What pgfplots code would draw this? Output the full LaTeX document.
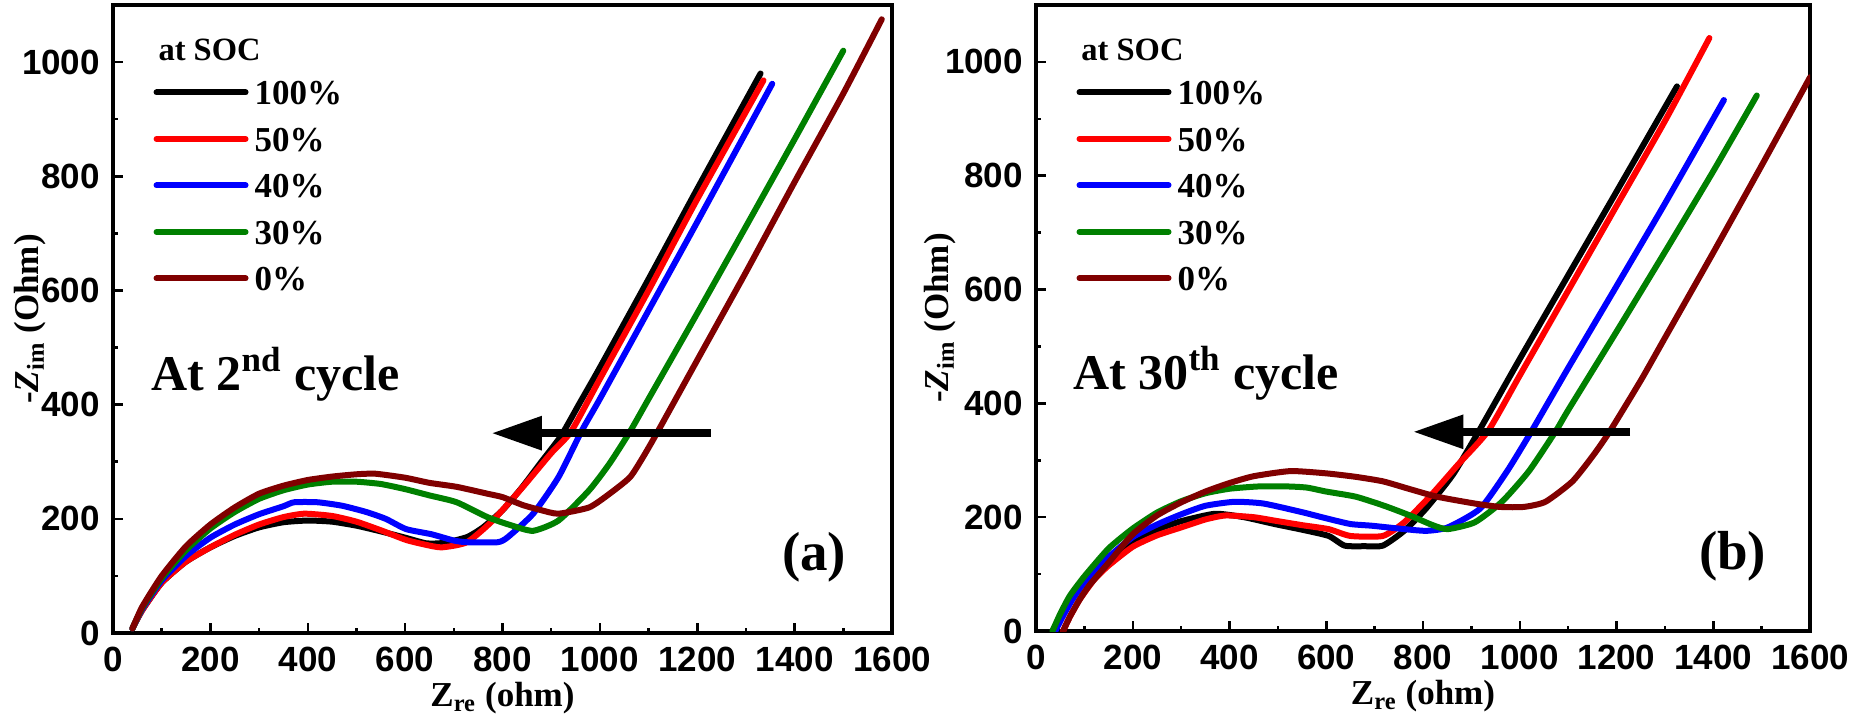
\documentclass[border=0pt]{standalone}
\usepackage{fontspec}
\setmainfont{Liberation Serif}
\setsansfont{Liberation Sans}
\usepackage{pgfplots}
\pgfplotsset{compat=1.18}
\usetikzlibrary{arrows.meta}

\definecolor{wine}{RGB}{128,0,0}
\definecolor{ogreen}{RGB}{0,128,0}
\definecolor{pblue}{RGB}{0,0,255}
\definecolor{pred}{RGB}{255,0,0}

\pgfplotsset{
  eis/.style={
    scale only axis,
    anchor=south west,
    xmin=0, xmax=1600, ymin=0, ymax=1100,
    xtick={0,200,...,1600}, ytick={0,200,...,1000},
    minor x tick num=1, minor y tick num=1,
    tick align=inside, tick pos=left,
    major tick length=4pt, minor tick length=2pt,
    axis line style={line width=1.4pt},
    every tick/.style={line width=1pt, black},
    tick label style={font=\fontsize{14}{14}\selectfont\sffamily\bfseries},
    /pgf/number format/assume math mode=true,
    /pgf/number format/1000 sep={},
    scaled ticks=false,
    xticklabel style={yshift=-2pt},
    yticklabel style={xshift=-1.7pt},
    label style={font=\fontsize{14}{16}\selectfont\bfseries},
    xlabel={Z\textsubscript{re} (ohm)},
    ylabel={-\textit{Z}\textsubscript{im} (Ohm)},
    xlabel style={at={(axis description cs:0.5,0)}, anchor=center, yshift=-26pt},
    legend cell align=left,
    legend style={anchor=north west, draw=none, fill=none, inner sep=0pt,
      /tikz/row sep=0pt, /tikz/column sep=2.4pt,
      font=\fontsize{14}{14}\selectfont\bfseries,
      nodes={inner xsep=0pt, inner ysep=0pt, text height=14.2pt, text depth=4.4pt}},
    legend image code/.code={\draw[#1, line width=2.4pt] (0pt,0pt) -- (35.6pt,0pt);},
    every axis plot/.append style={line width=2.4pt, line join=round, line cap=round,
      smooth, tension=0.35},
  },
}
\tikzset{
  soctitle/.style={anchor=west, inner sep=0pt, font=\fontsize{13}{13}\selectfont\bfseries},
  cyclenote/.style={anchor=base west, inner sep=0pt, font=\fontsize{20}{20}\selectfont\bfseries},
  panelnote/.style={anchor=center, inner sep=0pt, font=\fontsize{22}{22}\selectfont\bfseries},
  shiftarrow/.style={-{Triangle[length=20pt,width=13pt]}, line width=3pt, black},
}

\begin{document}
\begin{tikzpicture}
\useasboundingbox (0,0) rectangle (740.4pt,289.2pt);

% ---------- (a) 2nd cycle ----------
\begin{axis}[eis, at={(45.2pt,36pt)}, width=311.6pt, height=251.2pt,
  ylabel style={at={(axis description cs:-0.1065,0.5)}, anchor=center},
  legend style={at={(axis description cs:0.0514,0.8985)}}]
\addplot[black] coordinates {(40,8) (60,40) (100,88) (150,125) (200,150) (250,170) (300,185) (350,194) (400,197) (450,195) (500,188) (550,178) (600,167) (644,157) (680,158) (727,168) (760,185) (800,215) (840,255) (880,300) (920,345) (960,405) (1000,465) (1100,620) (1200,778) (1330,980)};
\addlegendentry{100\%}
\addplot[pred] coordinates {(40,8) (60,40) (100,88) (150,125) (200,150) (250,172) (300,190) (350,203) (393,209) (450,205) (500,195) (550,180) (602,163) (640,155) (675,150) (727,159) (780,197) (842,256) (900,315) (941,353) (1000,445) (1100,600) (1200,760) (1336,968)};
\addlegendentry{50\%}
\addplot[pblue] coordinates {(40,8) (60,42) (100,92) (150,135) (200,167) (250,190) (300,208) (350,222) (372,229) (420,229) (470,223) (520,212) (560,200) (602,182) (654,173) (700,162) (727,159) (790,159) (811,168) (863,209) (915,273) (962,353) (1000,410) (1100,565) (1200,720) (1354,962)};
\addlegendentry{40\%}
\addplot[ogreen] coordinates {(40,8) (60,44) (100,96) (150,145) (200,183) (250,212) (300,235) (350,250) (400,260) (450,265) (500,265) (550,261) (600,252) (650,241) (706,229) (769,203) (820,188) (863,179) (915,197) (978,250) (1020,297) (1062,353) (1100,410) (1200,560) (1300,712) (1400,865) (1500,1020)};
\addlegendentry{30\%}
\addplot[wine] coordinates {(40,8) (60,46) (100,100) (150,152) (200,190) (250,220) (300,244) (350,258) (400,268) (450,274) (500,278) (539,279) (600,272) (650,263) (706,256) (769,244) (800,238) (842,224) (880,215) (915,209) (978,220) (1020,244) (1062,273) (1090,310) (1119,353) (1200,478) (1300,632) (1400,790) (1500,945) (1579,1075)};
\addlegendentry{0\%}
\node[soctitle] at (axis description cs:0.0578,0.928) {at SOC};
\node[cyclenote] at (axis cs:78,425) {At 2\textsuperscript{nd} cycle};
\node[panelnote] at (axis cs:1440,132) {(a)};
\draw[shiftarrow] (axis cs:1228,350) -- (axis cs:778,350);
\end{axis}

% ---------- (b) 30th cycle ----------
\begin{axis}[eis, at={(414.4pt,36.8pt)}, width=309.6pt, height=250.4pt,
  ylabel style={at={(axis description cs:-0.124,0.5)}, anchor=center},
  legend style={at={(axis description cs:0.0517,0.8985)}}]
\addplot[black] coordinates {(34,0) (50,25) (70,55) (100,88) (150,130) (200,158) (250,178) (300,193) (370,206) (430,200) (493,188) (550,178) (605,167) (638,150) (680,149) (717,150) (761,176) (806,215) (862,275) (916,352) (1000,478) (1100,625) (1200,772) (1325,957)};
\addlegendentry{100\%}
\addplot[pred] coordinates {(56,0) (70,25) (90,55) (120,90) (150,115) (200,148) (250,168) (300,182) (350,196) (392,203) (450,200) (493,194) (550,186) (605,179) (650,167) (717,167) (761,191) (817,239) (873,293) (935,352) (1000,449) (1100,598) (1200,747) (1300,896) (1392,1042)};
\addlegendentry{50\%}
\addplot[pblue] coordinates {(40,0) (55,25) (75,55) (100,85) (150,130) (200,165) (250,187) (300,205) (350,220) (410,227) (470,224) (549,209) (600,198) (650,188) (694,185) (750,180) (806,176) (851,182) (918,215) (974,281) (1025,352) (1100,462) (1200,606) (1300,751) (1422,933)};
\addlegendentry{40\%}
\addplot[ogreen] coordinates {(34,0) (50,30) (70,62) (100,96) (150,145) (200,180) (250,208) (300,228) (350,242) (400,250) (460,254) (520,254) (560,252) (600,245) (661,236) (720,220) (773,203) (820,186) (851,179) (907,191) (963,227) (1019,281) (1075,352) (1100,388) (1200,526) (1300,666) (1400,808) (1490,941)};
\addlegendentry{30\%}
\addplot[wine] coordinates {(56,0) (70,25) (90,55) (110,80) (150,120) (200,170) (250,203) (300,226) (350,245) (400,260) (450,272) (526,281) (600,277) (660,271) (717,263) (770,250) (829,236) (907,224) (960,218) (1008,218) (1053,227) (1109,263) (1153,310) (1187,352) (1250,440) (1300,515) (1400,665) (1500,818) (1600,973)};
\addlegendentry{0\%}
\node[soctitle] at (axis description cs:0.0581,0.928) {at SOC};
\node[cyclenote] at (axis cs:76,425) {At 30\textsuperscript{th} cycle};
\node[panelnote] at (axis cs:1440,132) {(b)};
\draw[shiftarrow] (axis cs:1228,350) -- (axis cs:780,350);
\end{axis}
\end{tikzpicture}
\end{document}
